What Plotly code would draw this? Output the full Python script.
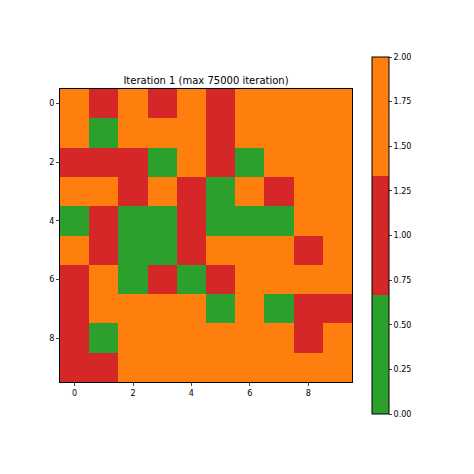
import plotly.graph_objects as go

# 0 = green, 1 = red, 2 = orange
grid = [
    [2, 1, 2, 1, 2, 1, 2, 2, 2, 2],
    [2, 0, 2, 2, 2, 1, 2, 2, 2, 2],
    [1, 1, 1, 0, 2, 1, 0, 2, 2, 2],
    [2, 2, 1, 2, 1, 0, 2, 1, 2, 2],
    [0, 1, 0, 0, 1, 0, 0, 0, 2, 2],
    [2, 1, 0, 0, 1, 2, 2, 2, 1, 2],
    [1, 2, 0, 1, 0, 1, 2, 2, 2, 2],
    [1, 2, 2, 2, 2, 0, 2, 0, 1, 1],
    [1, 0, 2, 2, 2, 2, 2, 2, 1, 2],
    [1, 1, 2, 2, 2, 2, 2, 2, 2, 2],
]
cb_ticks = [0, 0.25, 0.5, 0.75, 1.0, 1.25, 1.5, 1.75, 2.0]

green, red, orange = "#2ca02c", "#d62728", "#ff7f0e"
scale = [[0, green], [1/3, green], [1/3, red], [2/3, red], [2/3, orange], [1, orange]]

# page body adds an 8px offset, so positions are measured minus 8
W = 474
fig = go.Figure(go.Heatmap(
    z=grid, zmin=0, zmax=2, colorscale=scale,
    colorbar=dict(x=364/W, xanchor="left", xpad=0, ypad=0,
                  y=1-(49+406)/2/W, len=357/W, thickness=17,
                  tickvals=cb_ticks, tickformat=".2f", outlinecolor="black", outlinewidth=1,
                  ticks="outside", ticklen=3, tickfont=dict(size=8)),
))
axis_common = dict(showgrid=False, zeroline=False, ticks="outside", ticklen=3,
                   tickvals=[0, 2, 4, 6, 8], mirror=True, showline=True,
                   linecolor="black", linewidth=1, tickfont=dict(size=8))
fig.update_layout(
    width=W, height=W, margin=dict(l=0, r=0, t=0, b=0),
    paper_bgcolor="white", plot_bgcolor="white",
    font=dict(family="DejaVu Sans", color="black"),
    title=dict(text="Iteration 1 (max 75000 iteration)", x=198/W, xanchor="center",
               y=1-72/W, yanchor="middle", font=dict(size=10)),
    xaxis=dict(domain=[52/W, 344/W], range=[-0.5, 9.5], **axis_common),
    yaxis=dict(domain=[1-374/W, 1-81/W], range=[9.5, -0.5], **axis_common),
)
fig.write_html("out.html")
